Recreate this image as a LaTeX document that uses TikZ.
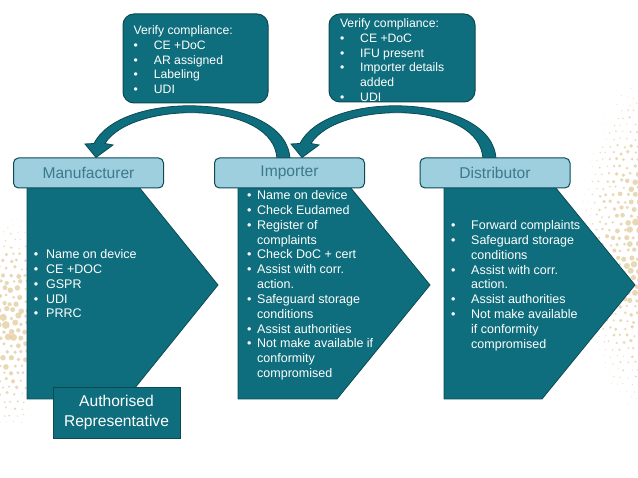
\documentclass[tikz,border=0pt]{standalone}
\usepackage{fontspec}
\setmainfont{Liberation Sans}
\definecolor{tealfill}{HTML}{0F6E7D}
\definecolor{tealdark}{HTML}{0B4A54}
\definecolor{lblfill}{HTML}{9DCFDE}
\definecolor{lbltext}{HTML}{3B7A8A}
\definecolor{golddot}{HTML}{D9BE84}
\newcommand\bi[2]{\makebox[#1pt][l]{•}#2}
\newcommand\ct[2]{\hspace*{#1pt}#2}
\tikzset{
  chev/.style={fill=tealfill, draw=tealdark, line width=0.8pt},
  lblbox/.style={fill=lblfill, draw=tealdark, line width=1pt, rounded corners=5pt,
    minimum width=150pt, minimum height=30pt, inner sep=0pt, text=lbltext,
    font=\fontsize{15.6}{18}\selectfont},
  topbox/.style={fill=tealfill, draw=tealdark, line width=1pt, rounded corners=11pt},
  blockarrow/.style={fill=tealfill, draw=tealdark, line width=0.8pt},
  arbox/.style={fill=tealfill, draw=tealdark, line width=0.8pt, minimum width=127pt,
    minimum height=51pt, inner sep=0pt, text=white, align=center,
    font=\fontsize{15.6}{19.5}\selectfont},
  listtxt/.style={anchor=base west, inner sep=0pt, align=left, text=white,
    font=\fontsize{12.5}{14.85}\selectfont},
  toptxt/.style={anchor=base west, inner sep=0pt, align=left, text=white,
    font=\fontsize{12.2}{14.8}\selectfont},
}
\begin{document}
\begin{tikzpicture}[x=1pt,y=-1pt]
\useasboundingbox (0,0) rectangle (638,478);
\fill[white] (0,0) rectangle (638,478);
\pgfmathsetseed{7}
% decorative dots, right
\foreach \i in {0,...,10}{
  \foreach \j in {0,...,48}{
    \pgfmathsetmacro\xx{568+\i*7+mod(\j,2)*3.5+rand*1.5}
    \pgfmathsetmacro\yy{90+\j*7+rand*1.5}
    \pgfmathsetmacro\dd{sqrt((\xx-645)^2+((\yy-245)/2.5)^2)}
    \pgfmathsetmacro\rr{max(0,3.8*(1-\dd/72))*(0.5+0.7*rnd)}
    \fill[golddot, opacity=0.6] (\xx,\yy) circle[radius=\rr pt];
  }
}
% decorative dots, left
\foreach \i in {0,...,6}{
  \foreach \j in {0,...,36}{
    \pgfmathsetmacro\xx{\i*7+mod(\j,2)*3.5+rand*1.5}
    \pgfmathsetmacro\yy{170+\j*7+rand*1.5}
    \pgfmathsetmacro\dd{sqrt((\xx-10)^2+((\yy-325)/3)^2)}
    \pgfmathsetmacro\rr{max(0,3.8*(1-\dd/40))*(0.5+0.7*rnd)}
    \fill[golddot, opacity=0.6] (\xx,\yy) circle[radius=\rr pt];
  }
}
% curved block arrows
\foreach \s in {0,206}{
  \begin{scope}[xshift=\s pt]
    \draw[blockarrow] (290,160) .. controls (289,94) and (122,88) .. (94,143.5)
      -- (85,144) -- (96,157.5) -- (113,145) -- (105,143.5)
      .. controls (132,100) and (276,100) .. (277,160) -- cycle;
  \end{scope}
}
% top boxes
\draw[topbox] (123,14) rectangle (268,103);
\draw[topbox] (329,14) rectangle (475,102);
\node[toptxt] (t1) at (133.5,93.7) {Verify compliance:\\
  \bi{20.2}{CE +DoC}\\ \bi{20.2}{AR assigned}\\ \bi{20.2}{Labeling}\\ \bi{20.2}{UDI}};
\node[toptxt] (t2) at (339.8,101.5) {Verify compliance:\\
  \bi{20.2}{CE +DoC}\\ \bi{20.2}{IFU present}\\ \bi{20.2}{Importer details}\\
  \ct{20.2}{added}\\ \bi{20.2}{UDI}};
% chevrons
\draw[chev] (27,171) -- (126,171) -- (218,285) -- (126,399) -- (27,399) -- cycle;
\draw[chev] (238,171) -- (337,171) -- (430,285) -- (337,399) -- (238,399) -- cycle;
\draw[chev] (444,171) -- (542,171) -- (635,285) -- (542,399) -- (444,399) -- cycle;
% labels
\node[lblbox] (mlab) at (88.5,173) {Manufacturer};
\node[lblbox] (ilab) at (289.5,173) {Importer};
\node[lblbox] (dlab) at (495,173) {Distributor};
% authorised representative
\node[arbox] (ar) at (116.5,412.5) {Authorised\\Representative};
% lists
\node[listtxt] (mlist) at (33.8,318) {\bi{12.2}{Name on device}\\ \bi{12.2}{CE +DOC}\\
  \bi{12.2}{GSPR}\\ \bi{12.2}{UDI}\\ \bi{12.2}{PRRC}};
\node[listtxt] (ilist) at (246.8,377.7) {\bi{10.2}{Name on device}\\ \bi{10.2}{Check Eudamed}\\
  \bi{10.2}{Register of}\\ \ct{10.2}{complaints}\\ \bi{10.2}{Check DoC + cert}\\
  \bi{10.2}{Assist with corr.}\\ \ct{10.2}{action.}\\ \bi{10.2}{Safeguard storage}\\
  \ct{10.2}{conditions}\\ \bi{10.2}{Assist authorities}\\ \bi{10.2}{Not make available if}\\
  \ct{10.2}{conformity}\\ \ct{10.2}{compromised}};
\node[listtxt] (dlist) at (450.8,348.3) {\bi{20.2}{Forward complaints}\\
  \bi{20.2}{Safeguard storage}\\ \ct{20.2}{conditions}\\ \bi{20.2}{Assist with corr.}\\
  \ct{20.2}{action.}\\ \bi{20.2}{Assist authorities}\\ \bi{20.2}{Not make available}\\
  \ct{20.2}{if conformity}\\ \ct{20.2}{compromised}};
\end{tikzpicture}
\end{document}
